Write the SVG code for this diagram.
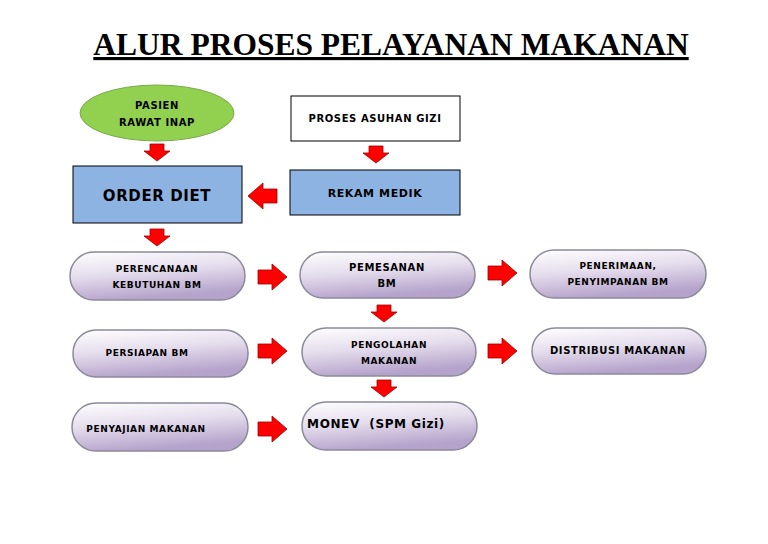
<svg xmlns="http://www.w3.org/2000/svg" width="768" height="544" viewBox="0 0 768 544">
<style>
.t{font-family:"DejaVu Sans",Verdana,sans-serif;font-weight:bold;fill:#000;text-anchor:middle;letter-spacing:0.6px}
.s{font-size:10px}
.pill{fill:url(#pg);stroke:#8a8a9a;stroke-width:1.5}
.ar{fill:#ff0000;stroke:#a00000;stroke-width:0.8}
</style>
<defs>
<linearGradient id="pg" x1="0" y1="0" x2="0.3" y2="1">
<stop offset="0" stop-color="#ffffff"/><stop offset="0.5" stop-color="#e4dcec"/><stop offset="1" stop-color="#b5a3cb"/>
</linearGradient>
<path id="ad" d="M-7,0 H7 V7 H13 L0,17 L-13,7 H-7 Z"/>
<path id="arr" d="M0,-7 H14 V-13 L29,0 L14,13 V7 H0 Z"/>
</defs>
<text x="391" y="55" text-anchor="middle" font-family="Liberation Serif,serif" font-weight="bold" font-size="31.5" text-decoration="underline">ALUR PROSES PELAYANAN MAKANAN</text>
<g id="pasien"><ellipse cx="157" cy="113" rx="77" ry="28" fill="#92d050" stroke="#7aa84a"/><text class="t s" x="157" y="109">PASIEN</text><text class="t s" x="157" y="126">RAWAT INAP</text></g>
<g id="asuhan"><rect x="291" y="96" width="169" height="45" fill="#fff" stroke="#000"/><text class="t s" x="375" y="122">PROSES ASUHAN GIZI</text></g>
<g id="order"><rect x="73" y="166" width="169" height="57" fill="#8db3e2" stroke="#000"/><text class="t" font-size="15" x="157" y="201">ORDER DIET</text></g>
<g id="rekam"><rect x="290" y="170" width="170" height="45" fill="#8db3e2" stroke="#000"/><text class="t" font-size="11" x="375" y="197">REKAM MEDIK</text></g>
<g id="perencanaan"><rect class="pill" x="70" y="252" width="175" height="48" rx="24"/><text class="t" font-size="9" x="157" y="272">PERENCANAAN</text><text class="t" font-size="9" x="157" y="288">KEBUTUHAN BM</text></g>
<g id="pemesanan"><rect class="pill" x="300" y="252" width="175" height="46" rx="23"/><text class="t s" x="387" y="271">PEMESANAN</text><text class="t s" x="387" y="287">BM</text></g>
<g id="penerimaan"><rect class="pill" x="530" y="250" width="176" height="48" rx="24"/><text class="t" font-size="9" x="618" y="269">PENERIMAAN,</text><text class="t" font-size="9" x="618" y="285">PENYIMPANAN BM</text></g>
<g id="persiapan"><rect class="pill" x="73" y="330" width="175" height="47" rx="23"/><text class="t" font-size="9" x="147" y="356">PERSIAPAN BM</text></g>
<g id="pengolahan"><rect class="pill" x="302" y="328" width="174" height="48" rx="24"/><text class="t" font-size="9" x="389" y="348">PENGOLAHAN</text><text class="t" font-size="9" x="389" y="364">MAKANAN</text></g>
<g id="distribusi"><rect class="pill" x="532" y="328" width="174" height="46" rx="23"/><text class="t s" x="618" y="354">DISTRIBUSI MAKANAN</text></g>
<g id="penyajian"><rect class="pill" x="72" y="403" width="176" height="48" rx="24"/><text class="t" font-size="9" x="146" y="432">PENYAJIAN MAKANAN</text></g>
<g id="monev"><rect class="pill" x="302" y="402" width="175" height="48" rx="24"/><text class="t" font-size="12" x="376" y="428" xml:space="preserve">MONEV  (SPM Gizi)</text></g>
<g id="connectors" class="ar">
<use href="#ad" x="157" y="144"/>
<use href="#ad" x="376" y="146"/>
<use href="#ad" x="157" y="229"/>
<use href="#ad" x="384" y="305"/>
<use href="#ad" x="384" y="380"/>
<use href="#arr" transform="translate(277,196) scale(-1,1)"/>
<use href="#arr" x="258" y="277"/>
<use href="#arr" x="488" y="273"/>
<use href="#arr" x="258" y="351"/>
<use href="#arr" x="488" y="351"/>
<use href="#arr" x="258" y="429"/>
</g>
</svg>
